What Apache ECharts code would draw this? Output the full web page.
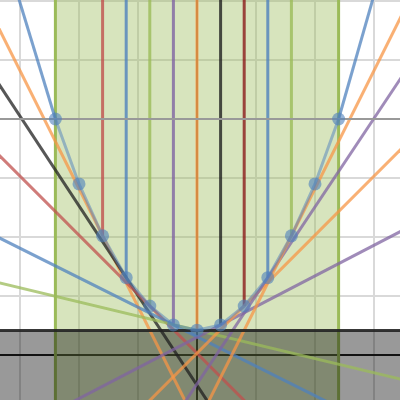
<!DOCTYPE html>
<html><head><meta charset="utf-8">
<script src="https://cdn.jsdelivr.net/npm/echarts@6/dist/echarts.min.js"></script>
<style>html,body{margin:0;padding:0;background:#fff}#c{width:400px;height:400px}</style>
</head><body><div id="c"></div>
<script>
const pointX = [-2.4,-2.0,-1.6,-1.2,-0.8,-0.4,0,0.4,0.8,1.2,1.6,2.0,2.4];
const pointY = [4.0,2.90,2.02,1.31,0.83,0.51,0.42,0.51,0.83,1.31,2.02,2.90,4.0];
const vertColors = [null,null,'#c0504d','#4f81bd','#9bbb59','#8064a2','#f79646','#1f1f1f','#8b1a1a','#4f81bd','#9bbb59',null,null];
const tanX0 = [-3.1,-4,-4,-4,-4,-4,-2.6,-1,-0.3,0,2.4];
const tanY0 = [6.3,6.82,5.57,4.03,2.31,1.38,-1.05,-0.97,-0.94,-1.18,4.0];
const tanX1 = [-2.4,0,0.4,1.0,2.6,4,4,4,4,4,3.0];
const tanY1 = [4.0,-1.18,-1.12,-0.97,-0.99,-0.54,2.38,4.03,5.51,6.82,6.1];
const tanColors = ['#4f81bd','#f79646','#1f1f1f','#c0504d','#4f81bd','#9bbb59','#8064a2','#f79646','#8064a2','#f79646','#4f81bd'];
const shadeX = [-2.4, 2.4];
const floorY = 0.42;
const refY = 4;

const series = [];
series.push({type:'line',data:[],markArea:{silent:true,itemStyle:{color:'rgba(155,187,89,0.4)',borderColor:'#9bbb59',borderWidth:3},data:[[{xAxis:shadeX[0],yAxis:-1},{xAxis:shadeX[1],yAxis:7}]]}});
series.push({type:'line',data:[],markArea:{silent:true,itemStyle:{color:'rgba(0,0,0,0.4)'},data:[[{xAxis:-4,yAxis:-1},{xAxis:4,yAxis:floorY}]]},
  markLine:{silent:true,symbol:'none',label:{show:false},data:[{yAxis:floorY,lineStyle:{color:'#222',width:3,type:'solid',opacity:0.9}},{yAxis:refY,lineStyle:{color:'#999',width:2,type:'solid'}}]}});
pointX.forEach((x,i)=>{ if(vertColors[i]) series.push({type:'line',data:[[x,pointY[i]],[x,7]],symbol:'none',lineStyle:{color:vertColors[i],width:3,opacity:0.8},z:3}); });
tanX0.forEach((x,i)=>{ series.push({type:'line',data:[[x,tanY0[i]],[tanX1[i],tanY1[i]]],symbol:'none',lineStyle:{color:tanColors[i],width:3,opacity:0.75},z:4}); });
series.push({type:'line',data:pointX.map((x,i)=>[x,pointY[i]]),symbol:'circle',symbolSize:13,itemStyle:{color:'#4f81bd',opacity:0.6},lineStyle:{color:'#4f81bd',width:3,opacity:0.5},z:5});

const chart = echarts.init(document.getElementById('c'));
chart.setOption({
  animation:false,
  grid:{left:-39,top:-58,width:472,height:472,containLabel:false,outerBoundsMode:'none'},
  xAxis:{type:'value',min:-4,max:4,interval:1,axisLabel:{show:false},axisTick:{show:false},
    axisLine:{onZero:true,lineStyle:{color:'#1f1f1f',width:2}},splitLine:{lineStyle:{color:'#d9d9d9',width:2}}},
  yAxis:{type:'value',min:-1,max:7,interval:1,axisLabel:{show:false},axisTick:{show:false},
    axisLine:{onZero:true,lineStyle:{color:'#1f1f1f',width:2}},splitLine:{lineStyle:{color:'#d9d9d9',width:2}}},
  series
});
</script></body></html>
